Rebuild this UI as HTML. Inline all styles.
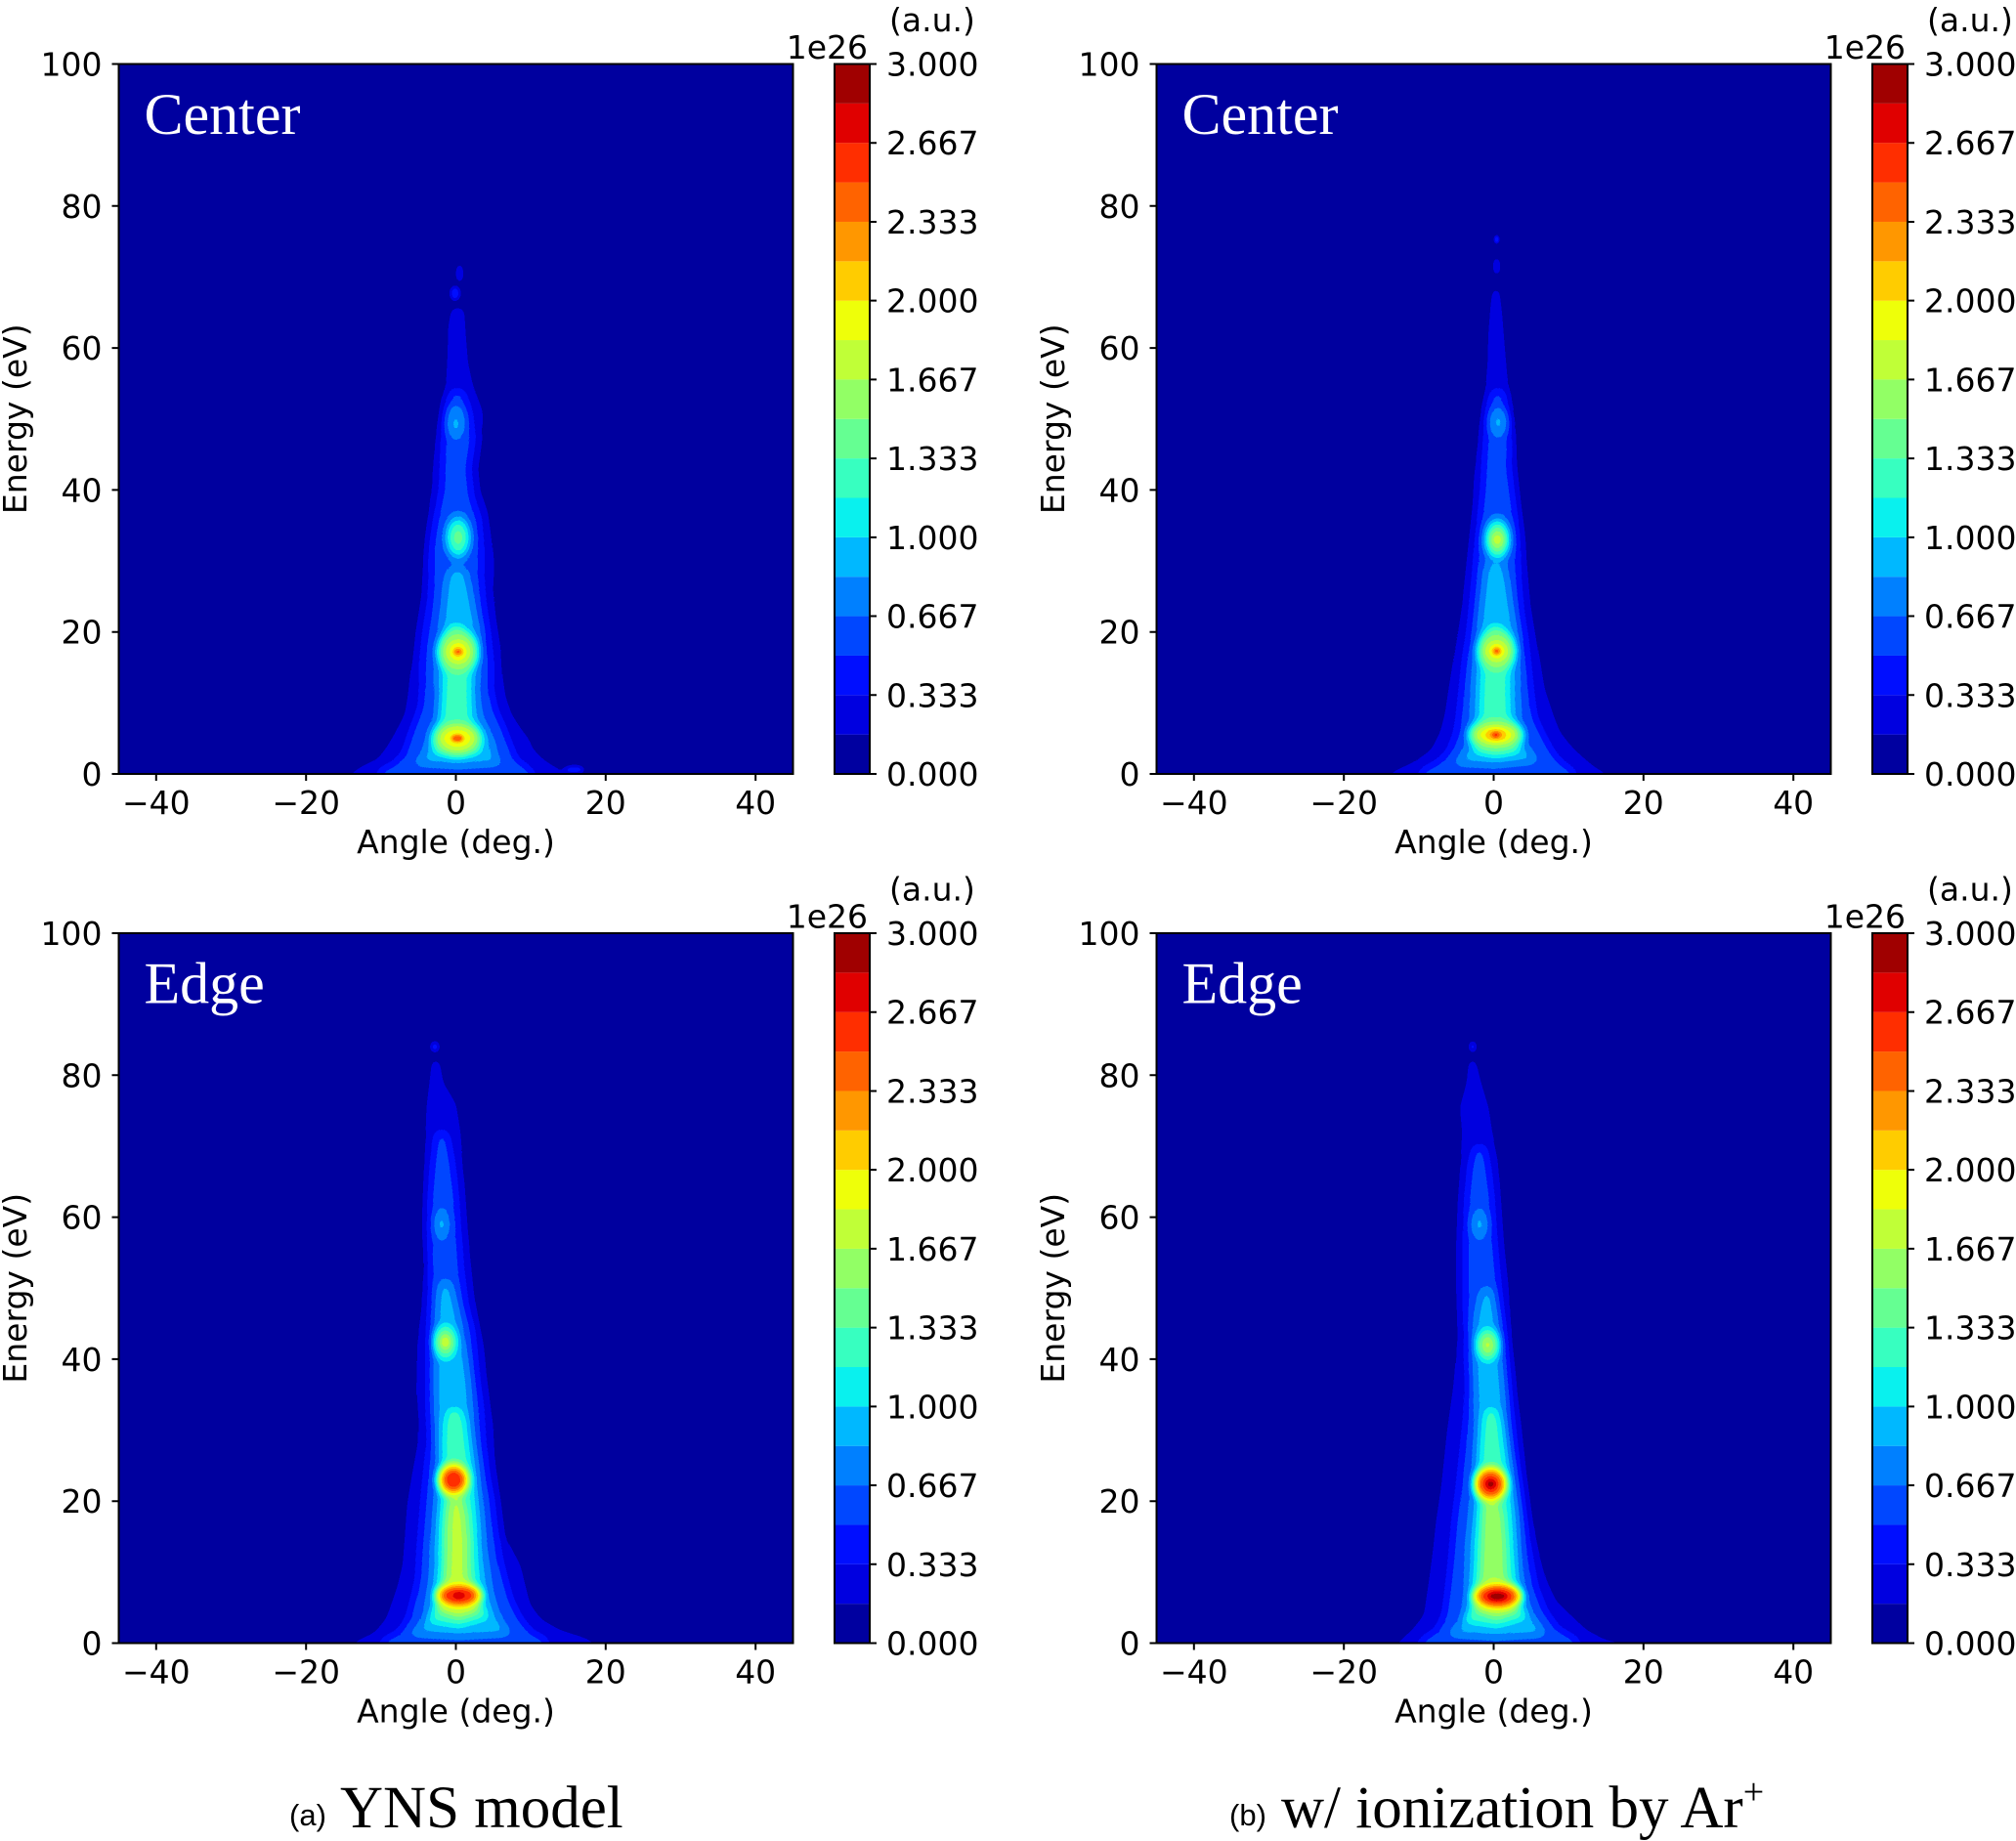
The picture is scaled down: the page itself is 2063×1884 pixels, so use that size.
<!DOCTYPE html>
<html>
<head>
<meta charset="utf-8">
<style>
html,body{margin:0;padding:0;background:#fff;}
body{width:2063px;height:1884px;overflow:hidden;}
svg{display:block;}
.t{font-family:"DejaVu Sans","Liberation Sans",sans-serif;font-size:33px;fill:#000;}
.lab{font-family:"Liberation Serif",serif;font-size:60px;fill:#fff;}
.cap{font-family:"Liberation Serif",serif;font-size:61px;fill:#000;}
.capa{font-family:"Liberation Sans",sans-serif;font-size:31px;fill:#000;}
</style>
</head>
<body>
<svg width="2063" height="1884" viewBox="0 0 2063 1884" xmlns="http://www.w3.org/2000/svg">
<defs>
<filter id="jet" filterUnits="userSpaceOnUse" x="0" y="0" width="690" height="727" color-interpolation-filters="sRGB">
<feComponentTransfer>
<feFuncR type="discrete" tableValues="0 0 0 0 0 0 0.035 0.216 0.396 0.573 0.753 0.933 1 1 1 1 0.878 0.627"/>
<feFuncG type="discrete" tableValues="0 0 0.055 0.278 0.5 0.722 0.945 1 1 1 1 1 0.8 0.592 0.388 0.18 0 0"/>
<feFuncB type="discrete" tableValues="0.627 0.878 1 1 1 1 0.933 0.753 0.573 0.396 0.216 0.035 0 0 0 0 0 0"/>
</feComponentTransfer>
</filter>
<filter id="b2" filterUnits="userSpaceOnUse" x="-50" y="-10" width="100" height="120" color-interpolation-filters="sRGB"><feGaussianBlur stdDeviation="0.25"/></filter>
<filter id="b3" filterUnits="userSpaceOnUse" x="-50" y="-10" width="100" height="120" color-interpolation-filters="sRGB"><feGaussianBlur stdDeviation="0.35"/></filter>
<filter id="b4" filterUnits="userSpaceOnUse" x="-50" y="-10" width="100" height="120" color-interpolation-filters="sRGB"><feGaussianBlur stdDeviation="0.45"/></filter>
<filter id="b5" filterUnits="userSpaceOnUse" x="-50" y="-10" width="100" height="120" color-interpolation-filters="sRGB"><feGaussianBlur stdDeviation="0.55"/></filter>
<filter id="b6" filterUnits="userSpaceOnUse" x="-50" y="-10" width="100" height="120" color-interpolation-filters="sRGB"><feGaussianBlur stdDeviation="0.65"/></filter>
<clipPath id="pc" clipPathUnits="userSpaceOnUse"><rect x="0" y="0" width="690" height="726.5"/></clipPath>
</defs>

<!-- ================= PANEL TL ================= -->
<g transform="translate(121.5,65.5)">
<g filter="url(#jet)" clip-path="url(#pc)">
<rect x="0" y="0" width="690" height="726.5" fill="#000"/>
<g transform="translate(345,726.5) scale(7.667,-7.265)">
<polygon fill="rgb(23,23,23)" filter="url(#b5)" points="-15,-3 -14,0.3 -12.5,1.3 -10.5,2.3 -9.3,4 -8.2,6 -7,8.5 -6.6,11 -6.3,14 -5.9,17 -5.5,21 -4.8,25 -4.6,29 -4.3,33 -3.8,37 -3.4,41 -3.1,45 -2.6,49 -2.2,52 -1.5,55 -1.3,59 -1.2,63 -0.8,65.5 0.2,66 1.3,65.5 1.5,62 1.8,58 2.4,55 3.8,51 3.7,47 3.2,43 3.5,40 4.5,37 4.9,34 5.3,30 5.2,26 5.6,22 6.2,18 6.4,14 6.8,11 7.6,8.5 8.8,6.5 9.9,5 10.5,3.5 12,2 13.5,1 15,0.3 16,-3"/>
<ellipse cx="0.5" cy="70.5" rx="0.4" ry="1.3" fill="rgb(38,38,38)" filter="url(#b3)"/>
<ellipse cx="-0.1" cy="67.7" rx="0.7" ry="1.1" fill="rgb(38,38,38)" filter="url(#b3)"/>
<ellipse cx="15.8" cy="0.6" rx="1.4" ry="0.6" fill="rgb(38,38,38)" filter="url(#b3)"/>
<polygon fill="rgb(51,51,51)" filter="url(#b6)" points="-11,-3 -10,0.5 -8,1.5 -6.8,3 -6.2,5 -5.5,7 -4.6,9.5 -4.4,13 -4.4,16 -4,20 -3.4,24 -3.2,28 -3.2,32 -2.6,36 -1.8,40 -1.7,44 -1.6,48 -1.2,52 -0.4,54 0.8,54 1.8,51 2.2,47 1.6,43 2,39 3,36 3.3,32 3.3,28 3.6,24 4.2,20 4.6,16 4.6,12 5.2,9 6.3,6.5 7.2,4 8,2 10,0.5 11,-3"/>
<polygon fill="rgb(77,77,77)" filter="url(#b6)" points="-6,1.5 -4.5,2.2 -4,3.5 -3.4,6 -2.6,8 -2.4,11 -2.6,14 -2.4,18 -1.9,21 -1.6,24 -1.3,27 -0.8,29 1.2,29 1.9,26 2.4,23 3,20 3,15 2.8,11 3.2,8 4.2,6 5,4 5.2,2.2 6.5,1.5 0.3,1.1"/>
<ellipse cx="0" cy="49.5" rx="1.3" ry="2.5" fill="rgb(64,64,64)" filter="url(#b4)"/>
<ellipse cx="0" cy="49.3" rx="0.5" ry="1.1" fill="rgb(74,74,74)" filter="url(#b3)"/>
<polygon fill="rgb(107,107,107)" filter="url(#b5)" points="-3,3 -2.2,5.5 -1.8,8 -1.6,11 -1.5,14 -1.4,17 -1.4,19 -0.8,21 0.8,21 1.6,19 1.9,16 1.8,12 1.9,8 2.6,5.5 3.3,3 0.2,2.4"/>
<ellipse cx="0.3" cy="33.3" rx="1.8" ry="3.5" fill="rgb(77,77,77)" filter="url(#b5)"/>
<ellipse cx="0.3" cy="33.3" rx="1.3" ry="2.3" fill="rgb(107,107,107)" filter="url(#b4)"/>
<ellipse cx="0.3" cy="33.3" rx="0.6" ry="1" fill="rgb(122,122,122)" filter="url(#b3)"/>
<ellipse cx="0.2" cy="5" rx="3.2" ry="2.4" fill="rgb(133,133,133)" filter="url(#b5)"/>
<ellipse cx="0.2" cy="5" rx="2.2" ry="1.6" fill="rgb(161,161,161)" filter="url(#b4)"/>
<ellipse cx="0.2" cy="5" rx="0.8" ry="0.5" fill="rgb(212,212,212)" filter="url(#b2)"/>
<ellipse cx="0.3" cy="17.2" rx="2.6" ry="3" fill="rgb(133,133,133)" filter="url(#b5)"/>
<ellipse cx="0.3" cy="17.2" rx="1.5" ry="1.6" fill="rgb(163,163,163)" filter="url(#b4)"/>
<ellipse cx="0.3" cy="17.2" rx="0.6" ry="0.5" fill="rgb(204,204,204)" filter="url(#b2)"/>
</g>
</g>
<rect x="0" y="0" width="690" height="726.5" fill="none" stroke="#000" stroke-width="2"/>
<path d="M-7,726.5H0M-7,581.2H0M-7,435.9H0M-7,290.6H0M-7,145.3H0M-7,0H0M38.3,726.5V733.5M191.7,726.5V733.5M345,726.5V733.5M498.3,726.5V733.5M651.7,726.5V733.5" stroke="#000" stroke-width="2"/>
<text class="t" x="-17" y="738.5" text-anchor="end">0</text>
<text class="t" x="-17" y="593.2" text-anchor="end">20</text>
<text class="t" x="-17" y="447.9" text-anchor="end">40</text>
<text class="t" x="-17" y="302.6" text-anchor="end">60</text>
<text class="t" x="-17" y="157.3" text-anchor="end">80</text>
<text class="t" x="-17" y="12" text-anchor="end">100</text>
<text class="t" x="38.3" y="767.5" text-anchor="middle">−40</text>
<text class="t" x="191.7" y="767.5" text-anchor="middle">−20</text>
<text class="t" x="345" y="767.5" text-anchor="middle">0</text>
<text class="t" x="498.3" y="767.5" text-anchor="middle">20</text>
<text class="t" x="651.7" y="767.5" text-anchor="middle">40</text>
<text class="t" x="345" y="807.5" text-anchor="middle">Angle (deg.)</text>
<text class="t" transform="translate(-94.5,363.25) rotate(-90)" text-anchor="middle">Energy (eV)</text>
<text class="lab" x="26" y="71.5">Center</text>
<g>
<rect x="732.5" y="686.14" width="36" height="40.4" fill="#0000A0"/>
<rect x="732.5" y="645.78" width="36" height="40.4" fill="#0000E0"/>
<rect x="732.5" y="605.42" width="36" height="40.4" fill="#000EFF"/>
<rect x="732.5" y="565.06" width="36" height="40.4" fill="#0047FF"/>
<rect x="732.5" y="524.69" width="36" height="40.4" fill="#0080FF"/>
<rect x="732.5" y="484.33" width="36" height="40.4" fill="#00B8FF"/>
<rect x="732.5" y="443.97" width="36" height="40.4" fill="#09F1EE"/>
<rect x="732.5" y="403.61" width="36" height="40.4" fill="#37FFC0"/>
<rect x="732.5" y="363.25" width="36" height="40.4" fill="#65FF92"/>
<rect x="732.5" y="322.89" width="36" height="40.4" fill="#92FF65"/>
<rect x="732.5" y="282.53" width="36" height="40.4" fill="#C0FF37"/>
<rect x="732.5" y="242.17" width="36" height="40.4" fill="#EEFF09"/>
<rect x="732.5" y="201.81" width="36" height="40.4" fill="#FFCC00"/>
<rect x="732.5" y="161.44" width="36" height="40.4" fill="#FF9700"/>
<rect x="732.5" y="121.08" width="36" height="40.4" fill="#FF6300"/>
<rect x="732.5" y="80.72" width="36" height="40.4" fill="#FF2E00"/>
<rect x="732.5" y="40.36" width="36" height="40.4" fill="#E00000"/>
<rect x="732.5" y="0" width="36" height="40.36" fill="#A00000"/>
<rect x="732.5" y="0" width="36" height="726.5" fill="none" stroke="#000" stroke-width="2"/>
<path d="M768.5,726.5h7M768.5,645.78h7M768.5,565.06h7M768.5,484.33h7M768.5,403.61h7M768.5,322.89h7M768.5,242.17h7M768.5,161.44h7M768.5,80.72h7M768.5,0h7" stroke="#000" stroke-width="2"/>
<text class="t" x="785.5" y="738.5">0.000</text>
<text class="t" x="785.5" y="657.8">0.333</text>
<text class="t" x="785.5" y="577.1">0.667</text>
<text class="t" x="785.5" y="496.3">1.000</text>
<text class="t" x="785.5" y="415.6">1.333</text>
<text class="t" x="785.5" y="334.9">1.667</text>
<text class="t" x="785.5" y="254.2">2.000</text>
<text class="t" x="785.5" y="173.4">2.333</text>
<text class="t" x="785.5" y="92.7">2.667</text>
<text class="t" x="785.5" y="12">3.000</text>
<text class="t" x="766.5" y="-5.5" text-anchor="end">1e26</text>
<text class="t" x="788.5" y="-33.5">(a.u.)</text>
</g>
</g>

<!-- ================= PANEL TR ================= -->
<g transform="translate(1183.5,65.5)">
<g filter="url(#jet)" clip-path="url(#pc)">
<rect x="0" y="0" width="690" height="726.5" fill="#000"/>
<g transform="translate(345,726.5) scale(7.667,-7.265)">
<polygon fill="rgb(23,23,23)" filter="url(#b5)" points="-15,-3 -13.7,0.4 -12,1.2 -10.5,2 -8.5,3.5 -7.3,6 -6.7,8.5 -6.2,12 -5.6,16 -5,20 -4.3,25 -3.8,30 -3.4,34 -3,38 -2.8,42 -2.3,46 -1.9,50 -1.3,54 -1,58 -0.9,62 -0.6,66 -0.3,68.5 0.9,68.5 1.3,65 1.6,61 2,56 2.6,52 3,48 3.3,43 3.8,38 4.3,34 4.6,30 5,25 5.6,21 6.3,16.5 7,12 8.1,8.5 9,6 10.5,4 12,2.5 13.7,1 15,0.3 16,-3"/>
<ellipse cx="0.4" cy="71.5" rx="0.4" ry="1.2" fill="rgb(38,38,38)" filter="url(#b3)"/>
<ellipse cx="0.4" cy="75.3" rx="0.25" ry="0.6" fill="rgb(60,60,60)" filter="url(#b2)"/>
<polygon fill="rgb(51,51,51)" filter="url(#b6)" points="-10.5,-3 -9.5,0.5 -7.5,1.5 -6,3 -5,5.5 -4.6,8 -4.2,12 -3.8,16 -3.2,20 -2.8,24 -2.5,28 -2.2,32 -1.8,36 -1.4,40 -1.2,44 -1,48 -0.7,52 0,54 1.2,54 1.8,51 2.1,47 2,43 2.5,39 3,35 3.2,31 3.3,27 3.6,23 4.2,19 4.6,15 5,11 5.4,8 6.5,5.5 7.8,3 9,1.5 10.5,0.5 11.5,-3"/>
<polygon fill="rgb(77,77,77)" filter="url(#b6)" points="-5.5,1.5 -4.3,2.3 -3.4,4 -2.9,7 -2.8,10 -2.7,13 -2.5,16 -2.1,19 -1.8,22 -1.5,25 -1.2,28 -0.8,30 1.3,30 1.9,27 2.3,24 2.9,20 3.2,16 3.2,12 3.3,8 3.8,5 4.8,3 6,1.8 0.3,1.2"/>
<ellipse cx="0.6" cy="49.5" rx="1.3" ry="2.2" fill="rgb(64,64,64)" filter="url(#b4)"/>
<ellipse cx="0.6" cy="49.5" rx="0.5" ry="1" fill="rgb(74,74,74)" filter="url(#b3)"/>
<polygon fill="rgb(107,107,107)" filter="url(#b5)" points="-2.6,3 -2,5 -1.7,8 -1.6,11 -1.5,14 -1.3,17 -1.2,19.5 -0.5,21 1,21 1.8,19.5 2,16 1.9,12 2,8.5 2.6,5.5 3.5,3 0.3,2.4"/>
<ellipse cx="0.5" cy="33" rx="1.9" ry="3.4" fill="rgb(77,77,77)" filter="url(#b5)"/>
<ellipse cx="0.5" cy="33" rx="1.4" ry="2.4" fill="rgb(115,115,115)" filter="url(#b4)"/>
<ellipse cx="0.5" cy="33" rx="0.9" ry="1.3" fill="rgb(140,140,140)" filter="url(#b3)"/>
<ellipse cx="0.5" cy="33" rx="0.4" ry="0.5" fill="rgb(153,153,153)" filter="url(#b2)"/>
<ellipse cx="0.3" cy="5.5" rx="3.6" ry="2.2" fill="rgb(133,133,133)" filter="url(#b5)"/>
<ellipse cx="0.3" cy="5.5" rx="2.5" ry="1.3" fill="rgb(163,163,163)" filter="url(#b4)"/>
<ellipse cx="0.3" cy="5.5" rx="1.3" ry="0.7" fill="rgb(189,189,189)" filter="url(#b3)"/>
<ellipse cx="0.3" cy="5.5" rx="0.5" ry="0.35" fill="rgb(224,224,224)" filter="url(#b2)"/>
<ellipse cx="0.4" cy="17.3" rx="2.4" ry="2.8" fill="rgb(133,133,133)" filter="url(#b5)"/>
<ellipse cx="0.4" cy="17.3" rx="1.4" ry="1.4" fill="rgb(163,163,163)" filter="url(#b4)"/>
<ellipse cx="0.4" cy="17.3" rx="0.5" ry="0.45" fill="rgb(209,209,209)" filter="url(#b2)"/>
</g>
</g>
<rect x="0" y="0" width="690" height="726.5" fill="none" stroke="#000" stroke-width="2"/>
<path d="M-7,726.5H0M-7,581.2H0M-7,435.9H0M-7,290.6H0M-7,145.3H0M-7,0H0M38.3,726.5V733.5M191.7,726.5V733.5M345,726.5V733.5M498.3,726.5V733.5M651.7,726.5V733.5" stroke="#000" stroke-width="2"/>
<text class="t" x="-17" y="738.5" text-anchor="end">0</text>
<text class="t" x="-17" y="593.2" text-anchor="end">20</text>
<text class="t" x="-17" y="447.9" text-anchor="end">40</text>
<text class="t" x="-17" y="302.6" text-anchor="end">60</text>
<text class="t" x="-17" y="157.3" text-anchor="end">80</text>
<text class="t" x="-17" y="12" text-anchor="end">100</text>
<text class="t" x="38.3" y="767.5" text-anchor="middle">−40</text>
<text class="t" x="191.7" y="767.5" text-anchor="middle">−20</text>
<text class="t" x="345" y="767.5" text-anchor="middle">0</text>
<text class="t" x="498.3" y="767.5" text-anchor="middle">20</text>
<text class="t" x="651.7" y="767.5" text-anchor="middle">40</text>
<text class="t" x="345" y="807.5" text-anchor="middle">Angle (deg.)</text>
<text class="t" transform="translate(-94.5,363.25) rotate(-90)" text-anchor="middle">Energy (eV)</text>
<text class="lab" x="26" y="71.5">Center</text>
<g>
<rect x="732.5" y="686.14" width="36" height="40.4" fill="#0000A0"/>
<rect x="732.5" y="645.78" width="36" height="40.4" fill="#0000E0"/>
<rect x="732.5" y="605.42" width="36" height="40.4" fill="#000EFF"/>
<rect x="732.5" y="565.06" width="36" height="40.4" fill="#0047FF"/>
<rect x="732.5" y="524.69" width="36" height="40.4" fill="#0080FF"/>
<rect x="732.5" y="484.33" width="36" height="40.4" fill="#00B8FF"/>
<rect x="732.5" y="443.97" width="36" height="40.4" fill="#09F1EE"/>
<rect x="732.5" y="403.61" width="36" height="40.4" fill="#37FFC0"/>
<rect x="732.5" y="363.25" width="36" height="40.4" fill="#65FF92"/>
<rect x="732.5" y="322.89" width="36" height="40.4" fill="#92FF65"/>
<rect x="732.5" y="282.53" width="36" height="40.4" fill="#C0FF37"/>
<rect x="732.5" y="242.17" width="36" height="40.4" fill="#EEFF09"/>
<rect x="732.5" y="201.81" width="36" height="40.4" fill="#FFCC00"/>
<rect x="732.5" y="161.44" width="36" height="40.4" fill="#FF9700"/>
<rect x="732.5" y="121.08" width="36" height="40.4" fill="#FF6300"/>
<rect x="732.5" y="80.72" width="36" height="40.4" fill="#FF2E00"/>
<rect x="732.5" y="40.36" width="36" height="40.4" fill="#E00000"/>
<rect x="732.5" y="0" width="36" height="40.36" fill="#A00000"/>
<rect x="732.5" y="0" width="36" height="726.5" fill="none" stroke="#000" stroke-width="2"/>
<path d="M768.5,726.5h7M768.5,645.78h7M768.5,565.06h7M768.5,484.33h7M768.5,403.61h7M768.5,322.89h7M768.5,242.17h7M768.5,161.44h7M768.5,80.72h7M768.5,0h7" stroke="#000" stroke-width="2"/>
<text class="t" x="785.5" y="738.5">0.000</text>
<text class="t" x="785.5" y="657.8">0.333</text>
<text class="t" x="785.5" y="577.1">0.667</text>
<text class="t" x="785.5" y="496.3">1.000</text>
<text class="t" x="785.5" y="415.6">1.333</text>
<text class="t" x="785.5" y="334.9">1.667</text>
<text class="t" x="785.5" y="254.2">2.000</text>
<text class="t" x="785.5" y="173.4">2.333</text>
<text class="t" x="785.5" y="92.7">2.667</text>
<text class="t" x="785.5" y="12">3.000</text>
<text class="t" x="766.5" y="-5.5" text-anchor="end">1e26</text>
<text class="t" x="788.5" y="-33.5">(a.u.)</text>
</g>
</g>

<!-- ================= PANEL BL ================= -->
<g transform="translate(121.5,955)">
<g filter="url(#jet)" clip-path="url(#pc)">
<rect x="0" y="0" width="690" height="726.5" fill="#000"/>
<g transform="translate(345,726.5) scale(7.667,-7.265)">
<polygon fill="rgb(23,23,23)" filter="url(#b5)" points="-15,-3 -13.5,0.4 -11,1.6 -9.5,3.5 -8.8,5.5 -8,8 -7.3,11 -7,15 -6.7,19.5 -6,24 -5.3,28 -5.2,31 -5.5,36 -5.4,42 -4.8,47 -4.3,53 -4.6,58 -4.5,64 -4.3,70 -4.1,75.6 -3.6,80 -3.4,82 -2.8,82.5 -2,82 -1.5,79 0.2,76 0.8,72 1.4,64 1.8,58 2.3,53 2.8,48 3.9,42 4.5,36 5.2,31 5.5,25 6.2,20 6.8,15 8.8,11 9.5,8 10.1,5.5 11.5,3.5 14,2 17,1 18.5,0.3 19,-3"/>
<ellipse cx="-2.8" cy="84" rx="0.6" ry="0.8" fill="rgb(38,38,38)" filter="url(#b3)"/>
<polygon fill="rgb(51,51,51)" filter="url(#b6)" points="-11,-3 -9.5,0.5 -7.5,1.5 -6.3,3.5 -5.7,6 -5,9 -4.8,13 -4.5,17 -4.2,21 -3.8,25 -3.4,29 -3.6,33 -3.7,38 -3.6,44 -3.4,48 -3.4,53 -3.5,58 -3.4,63 -3,68 -2.5,72 -1.3,72 -0.6,68 0,63 0.3,58 0.6,53 1.2,48 2.2,44 2.7,38 3.3,33 3.6,28 4.1,24 4.8,20 5.2,16 5.8,12 6.5,9 7.3,6 8.5,3.5 10,1.5 12,0.5 12.5,-3"/>
<polygon fill="rgb(77,77,77)" filter="url(#b6)" points="-6.5,1.3 -4.8,2.2 -4,4 -3.5,7 -3.2,10 -3.1,14 -2.8,18 -2.5,22 -2.4,26 -2.6,30 -2.7,35 -2.7,40 -2.6,45 -2.4,49 -2,51 -0.8,51 -0.1,48 0.5,45 1.2,41 1.7,37 2,33 2.3,29 2.8,25 3.2,21 3.6,17 3.8,13 4.2,10 4.6,7 5.5,4 6.5,2.2 7.5,1.3 0.5,0.9"/>
<ellipse cx="-1.9" cy="59" rx="1.1" ry="2.4" fill="rgb(64,64,64)" filter="url(#b4)"/>
<ellipse cx="-1.9" cy="59" rx="0.5" ry="1" fill="rgb(74,74,74)" filter="url(#b3)"/>
<polygon fill="rgb(107,107,107)" filter="url(#b5)" points="-3.6,3 -2.7,5 -2.3,8 -2.1,11 -2.1,14 -2,17 -1.8,20 -1.6,24 -1.6,28 -1.5,31 -1,33 0.6,33 1.2,31 1.5,28 2,24 2.3,20 2.6,16 2.7,12 2.9,9 3.4,6 4.3,3.5 0.5,2.3"/>
<polygon fill="rgb(145,145,145)" filter="url(#b5)" points="-2.5,4.5 -1.6,7 -1.3,10 -1.2,13 -1.2,16 -1,19 -0.5,21 0.6,21 1.3,18 1.6,14 1.6,10 1.8,7.5 3.2,4.5 0.4,3.5"/>
<ellipse cx="-1.4" cy="42.4" rx="1.6" ry="2.6" fill="rgb(107,107,107)" filter="url(#b4)"/>
<ellipse cx="-1.4" cy="42.4" rx="1" ry="1.5" fill="rgb(133,133,133)" filter="url(#b3)"/>
<ellipse cx="-1.4" cy="42.4" rx="0.5" ry="0.7" fill="rgb(153,153,153)" filter="url(#b2)"/>
<ellipse cx="0.4" cy="6.7" rx="3.2" ry="2" fill="rgb(163,163,163)" filter="url(#b4)"/>
<ellipse cx="0.4" cy="6.7" rx="2.5" ry="1.4" fill="rgb(191,191,191)" filter="url(#b3)"/>
<ellipse cx="0.4" cy="6.7" rx="2" ry="1" fill="rgb(222,222,222)" filter="url(#b3)"/>
<ellipse cx="0.4" cy="6.7" rx="0.8" ry="0.5" fill="rgb(235,235,235)" filter="url(#b2)"/>
<ellipse cx="-0.3" cy="23" rx="2.2" ry="2.6" fill="rgb(158,158,158)" filter="url(#b4)"/>
<ellipse cx="-0.3" cy="23" rx="1.6" ry="1.8" fill="rgb(191,191,191)" filter="url(#b3)"/>
<ellipse cx="-0.3" cy="23" rx="1.1" ry="1.2" fill="rgb(224,224,224)" filter="url(#b3)"/>
</g>
</g>
<rect x="0" y="0" width="690" height="726.5" fill="none" stroke="#000" stroke-width="2"/>
<path d="M-7,726.5H0M-7,581.2H0M-7,435.9H0M-7,290.6H0M-7,145.3H0M-7,0H0M38.3,726.5V733.5M191.7,726.5V733.5M345,726.5V733.5M498.3,726.5V733.5M651.7,726.5V733.5" stroke="#000" stroke-width="2"/>
<text class="t" x="-17" y="738.5" text-anchor="end">0</text>
<text class="t" x="-17" y="593.2" text-anchor="end">20</text>
<text class="t" x="-17" y="447.9" text-anchor="end">40</text>
<text class="t" x="-17" y="302.6" text-anchor="end">60</text>
<text class="t" x="-17" y="157.3" text-anchor="end">80</text>
<text class="t" x="-17" y="12" text-anchor="end">100</text>
<text class="t" x="38.3" y="767.5" text-anchor="middle">−40</text>
<text class="t" x="191.7" y="767.5" text-anchor="middle">−20</text>
<text class="t" x="345" y="767.5" text-anchor="middle">0</text>
<text class="t" x="498.3" y="767.5" text-anchor="middle">20</text>
<text class="t" x="651.7" y="767.5" text-anchor="middle">40</text>
<text class="t" x="345" y="807.5" text-anchor="middle">Angle (deg.)</text>
<text class="t" transform="translate(-94.5,363.25) rotate(-90)" text-anchor="middle">Energy (eV)</text>
<text class="lab" x="26" y="71.5">Edge</text>
<g>
<rect x="732.5" y="686.14" width="36" height="40.4" fill="#0000A0"/>
<rect x="732.5" y="645.78" width="36" height="40.4" fill="#0000E0"/>
<rect x="732.5" y="605.42" width="36" height="40.4" fill="#000EFF"/>
<rect x="732.5" y="565.06" width="36" height="40.4" fill="#0047FF"/>
<rect x="732.5" y="524.69" width="36" height="40.4" fill="#0080FF"/>
<rect x="732.5" y="484.33" width="36" height="40.4" fill="#00B8FF"/>
<rect x="732.5" y="443.97" width="36" height="40.4" fill="#09F1EE"/>
<rect x="732.5" y="403.61" width="36" height="40.4" fill="#37FFC0"/>
<rect x="732.5" y="363.25" width="36" height="40.4" fill="#65FF92"/>
<rect x="732.5" y="322.89" width="36" height="40.4" fill="#92FF65"/>
<rect x="732.5" y="282.53" width="36" height="40.4" fill="#C0FF37"/>
<rect x="732.5" y="242.17" width="36" height="40.4" fill="#EEFF09"/>
<rect x="732.5" y="201.81" width="36" height="40.4" fill="#FFCC00"/>
<rect x="732.5" y="161.44" width="36" height="40.4" fill="#FF9700"/>
<rect x="732.5" y="121.08" width="36" height="40.4" fill="#FF6300"/>
<rect x="732.5" y="80.72" width="36" height="40.4" fill="#FF2E00"/>
<rect x="732.5" y="40.36" width="36" height="40.4" fill="#E00000"/>
<rect x="732.5" y="0" width="36" height="40.36" fill="#A00000"/>
<rect x="732.5" y="0" width="36" height="726.5" fill="none" stroke="#000" stroke-width="2"/>
<path d="M768.5,726.5h7M768.5,645.78h7M768.5,565.06h7M768.5,484.33h7M768.5,403.61h7M768.5,322.89h7M768.5,242.17h7M768.5,161.44h7M768.5,80.72h7M768.5,0h7" stroke="#000" stroke-width="2"/>
<text class="t" x="785.5" y="738.5">0.000</text>
<text class="t" x="785.5" y="657.8">0.333</text>
<text class="t" x="785.5" y="577.1">0.667</text>
<text class="t" x="785.5" y="496.3">1.000</text>
<text class="t" x="785.5" y="415.6">1.333</text>
<text class="t" x="785.5" y="334.9">1.667</text>
<text class="t" x="785.5" y="254.2">2.000</text>
<text class="t" x="785.5" y="173.4">2.333</text>
<text class="t" x="785.5" y="92.7">2.667</text>
<text class="t" x="785.5" y="12">3.000</text>
<text class="t" x="766.5" y="-5.5" text-anchor="end">1e26</text>
<text class="t" x="788.5" y="-33.5">(a.u.)</text>
</g>
</g>

<!-- ================= PANEL BR ================= -->
<g transform="translate(1183.5,955)">
<g filter="url(#jet)" clip-path="url(#pc)">
<rect x="0" y="0" width="690" height="726.5" fill="#000"/>
<g transform="translate(345,726.5) scale(7.667,-7.265)">
<polygon fill="rgb(23,23,23)" filter="url(#b5)" points="-15,-3 -12.7,0.4 -11,2 -9.5,4 -8.8,9 -8.3,13 -7.9,17 -7.2,22 -6.4,30 -5.6,36 -5,43 -5.2,50 -5.2,56 -5,62 -4.6,68 -4.4,72 -4.7,75.5 -3.8,79 -3.5,82 -2.8,82.6 -2.2,82 -1.5,79 -0.5,75.5 0,72 0.8,68 1.2,62 1.6,56 2.2,50 2.5,43 3.2,36 3.9,30 4.6,23 5.4,17 6.2,13 7.2,9 8.5,6 10.5,4 12.5,2 15,0.6 17,0.2 17.5,-3"/>
<ellipse cx="-2.8" cy="84" rx="0.5" ry="0.8" fill="rgb(38,38,38)" filter="url(#b3)"/>
<polygon fill="rgb(51,51,51)" filter="url(#b6)" points="-11,-3 -9.5,0.5 -7.5,1.8 -6.5,4 -6,8 -5.6,12 -5.2,17 -4.6,22 -4.1,27 -3.6,32 -3.4,37 -3.6,42 -3.7,47 -3.7,53 -3.7,58 -3.5,63 -3.1,67 -2.5,70 -1.3,70 -0.8,67 -0.3,63 0,58 0.4,53 0.9,48 1.5,43 1.9,38 2.4,32 2.9,27 3.6,22 4.2,17 4.8,12 5.5,8 6.8,4.5 8.5,2 11,0.5 12,-3"/>
<polygon fill="rgb(77,77,77)" filter="url(#b6)" points="-6.3,1.2 -4.8,2.2 -4,4 -3.6,7 -3.5,10 -3.4,14 -3,18 -2.7,22 -2.5,26 -2.3,30 -2.4,35 -2.6,40 -2.5,45 -2,48 -1.4,50 -0.3,50 0.2,47 0.7,43 1,39 1.3,35 1.7,30 2.2,26 2.7,22 3.2,18 3.4,14 3.6,10 4,7 5,4 6.2,2.2 7,1.2 0.3,0.8"/>
<ellipse cx="-1.9" cy="59" rx="1.2" ry="2.3" fill="rgb(64,64,64)" filter="url(#b4)"/>
<ellipse cx="-1.9" cy="59" rx="0.5" ry="1" fill="rgb(74,74,74)" filter="url(#b3)"/>
<polygon fill="rgb(107,107,107)" filter="url(#b5)" points="-3.8,3 -2.9,5 -2.6,8 -2.4,11 -2.3,14 -2.1,17 -1.9,20 -1.8,24 -1.6,28 -1.4,31 -1,33 0.3,33 0.8,31 1.1,28 1.6,24 2,20 2.3,16 2.5,12 2.7,9 3.2,6 4.3,3.5 0.5,2.3"/>
<polygon fill="rgb(140,140,140)" filter="url(#b5)" points="-2.6,4.5 -1.8,7 -1.5,10 -1.4,13 -1.3,16 -1.2,19 -0.7,21 0.3,21 1,18 1.3,14 1.4,10 1.8,7.5 3.2,4.5 0.4,3.5"/>
<ellipse cx="-0.8" cy="42" rx="1.6" ry="2.5" fill="rgb(107,107,107)" filter="url(#b4)"/>
<ellipse cx="-0.8" cy="42" rx="1" ry="1.5" fill="rgb(133,133,133)" filter="url(#b3)"/>
<ellipse cx="-0.8" cy="42" rx="0.4" ry="0.6" fill="rgb(145,145,145)" filter="url(#b2)"/>
<ellipse cx="0.5" cy="6.6" rx="3.4" ry="2.1" fill="rgb(163,163,163)" filter="url(#b4)"/>
<ellipse cx="0.5" cy="6.6" rx="2.7" ry="1.5" fill="rgb(194,194,194)" filter="url(#b3)"/>
<ellipse cx="0.5" cy="6.6" rx="2.1" ry="1.1" fill="rgb(224,224,224)" filter="url(#b3)"/>
<ellipse cx="0.5" cy="6.6" rx="1.2" ry="0.6" fill="rgb(245,245,245)" filter="url(#b2)"/>
<ellipse cx="-0.4" cy="22.4" rx="2.3" ry="2.7" fill="rgb(163,163,163)" filter="url(#b4)"/>
<ellipse cx="-0.4" cy="22.4" rx="1.7" ry="1.9" fill="rgb(196,196,196)" filter="url(#b3)"/>
<ellipse cx="-0.4" cy="22.4" rx="1.2" ry="1.3" fill="rgb(224,224,224)" filter="url(#b3)"/>
<ellipse cx="-0.4" cy="22.4" rx="0.6" ry="0.6" fill="rgb(245,245,245)" filter="url(#b2)"/>
</g>
</g>
<rect x="0" y="0" width="690" height="726.5" fill="none" stroke="#000" stroke-width="2"/>
<path d="M-7,726.5H0M-7,581.2H0M-7,435.9H0M-7,290.6H0M-7,145.3H0M-7,0H0M38.3,726.5V733.5M191.7,726.5V733.5M345,726.5V733.5M498.3,726.5V733.5M651.7,726.5V733.5" stroke="#000" stroke-width="2"/>
<text class="t" x="-17" y="738.5" text-anchor="end">0</text>
<text class="t" x="-17" y="593.2" text-anchor="end">20</text>
<text class="t" x="-17" y="447.9" text-anchor="end">40</text>
<text class="t" x="-17" y="302.6" text-anchor="end">60</text>
<text class="t" x="-17" y="157.3" text-anchor="end">80</text>
<text class="t" x="-17" y="12" text-anchor="end">100</text>
<text class="t" x="38.3" y="767.5" text-anchor="middle">−40</text>
<text class="t" x="191.7" y="767.5" text-anchor="middle">−20</text>
<text class="t" x="345" y="767.5" text-anchor="middle">0</text>
<text class="t" x="498.3" y="767.5" text-anchor="middle">20</text>
<text class="t" x="651.7" y="767.5" text-anchor="middle">40</text>
<text class="t" x="345" y="807.5" text-anchor="middle">Angle (deg.)</text>
<text class="t" transform="translate(-94.5,363.25) rotate(-90)" text-anchor="middle">Energy (eV)</text>
<text class="lab" x="26" y="71.5">Edge</text>
<g>
<rect x="732.5" y="686.14" width="36" height="40.4" fill="#0000A0"/>
<rect x="732.5" y="645.78" width="36" height="40.4" fill="#0000E0"/>
<rect x="732.5" y="605.42" width="36" height="40.4" fill="#000EFF"/>
<rect x="732.5" y="565.06" width="36" height="40.4" fill="#0047FF"/>
<rect x="732.5" y="524.69" width="36" height="40.4" fill="#0080FF"/>
<rect x="732.5" y="484.33" width="36" height="40.4" fill="#00B8FF"/>
<rect x="732.5" y="443.97" width="36" height="40.4" fill="#09F1EE"/>
<rect x="732.5" y="403.61" width="36" height="40.4" fill="#37FFC0"/>
<rect x="732.5" y="363.25" width="36" height="40.4" fill="#65FF92"/>
<rect x="732.5" y="322.89" width="36" height="40.4" fill="#92FF65"/>
<rect x="732.5" y="282.53" width="36" height="40.4" fill="#C0FF37"/>
<rect x="732.5" y="242.17" width="36" height="40.4" fill="#EEFF09"/>
<rect x="732.5" y="201.81" width="36" height="40.4" fill="#FFCC00"/>
<rect x="732.5" y="161.44" width="36" height="40.4" fill="#FF9700"/>
<rect x="732.5" y="121.08" width="36" height="40.4" fill="#FF6300"/>
<rect x="732.5" y="80.72" width="36" height="40.4" fill="#FF2E00"/>
<rect x="732.5" y="40.36" width="36" height="40.4" fill="#E00000"/>
<rect x="732.5" y="0" width="36" height="40.36" fill="#A00000"/>
<rect x="732.5" y="0" width="36" height="726.5" fill="none" stroke="#000" stroke-width="2"/>
<path d="M768.5,726.5h7M768.5,645.78h7M768.5,565.06h7M768.5,484.33h7M768.5,403.61h7M768.5,322.89h7M768.5,242.17h7M768.5,161.44h7M768.5,80.72h7M768.5,0h7" stroke="#000" stroke-width="2"/>
<text class="t" x="785.5" y="738.5">0.000</text>
<text class="t" x="785.5" y="657.8">0.333</text>
<text class="t" x="785.5" y="577.1">0.667</text>
<text class="t" x="785.5" y="496.3">1.000</text>
<text class="t" x="785.5" y="415.6">1.333</text>
<text class="t" x="785.5" y="334.9">1.667</text>
<text class="t" x="785.5" y="254.2">2.000</text>
<text class="t" x="785.5" y="173.4">2.333</text>
<text class="t" x="785.5" y="92.7">2.667</text>
<text class="t" x="785.5" y="12">3.000</text>
<text class="t" x="766.5" y="-5.5" text-anchor="end">1e26</text>
<text class="t" x="788.5" y="-33.5">(a.u.)</text>
</g>
</g>

<!-- ================= CAPTIONS ================= -->
<text class="capa" x="296" y="1868">(a)</text>
<text class="cap" x="348" y="1870">YNS model</text>
<text class="capa" x="1258" y="1868">(b)</text>
<text class="cap" x="1311" y="1870">w/ ionization by Ar<tspan font-size="38" dy="-24">+</tspan></text>
</svg>
</body>
</html>
